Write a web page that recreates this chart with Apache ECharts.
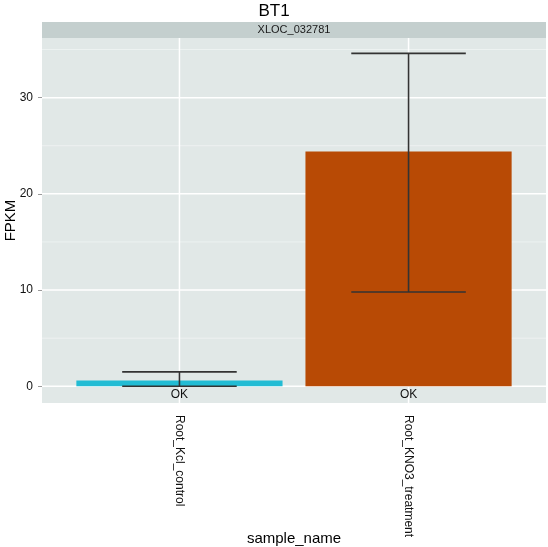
<!DOCTYPE html>
<html><head><meta charset="utf-8">
<script src="https://cdn.jsdelivr.net/npm/echarts@6/dist/echarts.min.js"></script>
<style>html,body{margin:0;padding:0;background:#fff}#c{width:548px;height:547px}</style>
</head><body><div id="c"></div>
<script>
const categories = ['Root_Kcl_control', 'Root_KNO3_treatment'];
const fpkm = [0.6, 24.4];
const confLo = [0.0, 9.8];
const confHi = [1.5, 34.6];
const statusLabels = ['OK', 'OK'];
const barColors = ['#22BCD4', '#B84A05'];
const yTicks = [0, 10, 20, 30];
const yMinor = [5, 15, 25, 35];
const titleText = 'BT1';
const stripText = 'XLOC_032781';

const FONT = 'Liberation Sans';
const GL = 42, GR = 2, GT = 38, GB = 144, W = 548;
const XMIN = 0.4, XMAX = 2.6, YMIN = -1.74, YMAX = 36.2;
const xPos = categories.map((c, i) => i + 1);

const chart = echarts.init(document.getElementById('c'), null, {renderer: 'canvas'});

const barData = xPos.map((x, i) => [x, fpkm[i], i]);
const errData = xPos.map((x, i) => [x, confLo[i], confHi[i]]);
const okData = xPos.map((x, i) => [x, 0, i]);

chart.setOption({
  animation: false,
  backgroundColor: '#fff',
  grid: {left: GL, right: GR, top: GT, bottom: GB, show: true, backgroundColor: '#E1E8E7', borderWidth: 0, containLabel: false, outerBoundsMode: 'none'},
  graphic: [
    {type: 'text', left: 'center', top: 3, style: {text: titleText, fontFamily: FONT, fontSize: 17, fill: '#000', x: 0, y: 0}},
    {type: 'rect', shape: {x: GL, y: 22, width: W - GL - GR, height: 16}, style: {fill: '#C4CFCE'}, z: 1},
    {type: 'text', style: {text: stripText, x: GL + (W - GL - GR) / 2, y: 30, textAlign: 'center', textVerticalAlign: 'middle', fontFamily: FONT, fontSize: 11, fill: '#1a1a1a'}, z: 2}
  ],
  xAxis: {
    type: 'value', min: XMIN, max: XMAX,
    name: 'sample_name', nameLocation: 'middle', nameGap: 128, nameMoveOverlap: false,
    nameTextStyle: {fontFamily: FONT, fontSize: 15, color: '#000'},
    axisLine: {show: false},
    axisTick: {show: true, customValues: xPos, length: 4, lineStyle: {color: '#9a9a9a', width: 1}},
    axisLabel: {customValues: xPos, formatter: v => categories[Math.round(v) - 1] || '', rotate: -90, margin: 12, fontFamily: FONT, fontSize: 12, color: '#111'},
    splitLine: {show: false}
  },
  yAxis: {
    type: 'value', min: YMIN, max: YMAX,
    name: 'FPKM', nameLocation: 'middle', nameGap: 24, nameRotate: 90, nameMoveOverlap: false,
    nameTextStyle: {fontFamily: FONT, fontSize: 15, color: '#000'},
    axisLine: {show: false},
    axisTick: {show: true, customValues: yTicks, length: 4, lineStyle: {color: '#9a9a9a', width: 1}},
    axisLabel: {customValues: yTicks, margin: 9, fontFamily: FONT, fontSize: 12, color: '#111'},
    splitLine: {show: false}
  },
  series: [
    {
      type: 'custom', name: 'minorGrid', silent: true, z: 1,
      data: yMinor.map(v => [v]),
      renderItem: (params, api) => {
        const v = api.value(0);
        const a = api.coord([XMIN, v]), b = api.coord([XMAX, v]);
        return {type: 'line', shape: {x1: a[0], y1: a[1], x2: b[0], y2: b[1]}, style: {stroke: '#F3F6F6', lineWidth: 0.7}};
      }
    },
    {
      type: 'custom', name: 'majorGrid', silent: true, z: 1,
      data: yTicks.map(v => [v]),
      renderItem: (params, api) => {
        const v = api.value(0);
        const a = api.coord([XMIN, v]), b = api.coord([XMAX, v]);
        return {type: 'line', shape: {x1: a[0], y1: a[1], x2: b[0], y2: b[1]}, style: {stroke: '#FFFFFF', lineWidth: 1.5}};
      }
    },
    {
      type: 'custom', name: 'xGrid', silent: true, z: 1,
      data: xPos.map(v => [v]),
      renderItem: (params, api) => {
        const v = api.value(0);
        const a = api.coord([v, YMIN]), b = api.coord([v, YMAX]);
        return {type: 'line', shape: {x1: a[0], y1: a[1], x2: b[0], y2: b[1]}, style: {stroke: '#FFFFFF', lineWidth: 1.5}};
      }
    },
    {
      type: 'custom', name: 'bars', z: 3,
      data: barData,
      renderItem: (params, api) => {
        const x = api.value(0), y = api.value(1), i = api.value(2);
        const p0 = api.coord([x - 0.45, y]), p1 = api.coord([x + 0.45, 0]);
        return {type: 'rect', shape: {x: p0[0], y: p0[1], width: p1[0] - p0[0], height: p1[1] - p0[1]}, style: {fill: barColors[i]}};
      }
    },
    {
      type: 'custom', name: 'errors', z: 4,
      data: errData,
      renderItem: (params, api) => {
        const x = api.value(0), lo = api.value(1), hi = api.value(2);
        const t = api.coord([x, hi]), b = api.coord([x, lo]);
        const tl = api.coord([x - 0.25, hi]), tr = api.coord([x + 0.25, hi]);
        const bl = api.coord([x - 0.25, lo]), br = api.coord([x + 0.25, lo]);
        const st = {stroke: '#333333', lineWidth: 1.6};
        return {type: 'group', children: [
          {type: 'line', shape: {x1: t[0], y1: t[1], x2: b[0], y2: b[1]}, style: st},
          {type: 'line', shape: {x1: tl[0], y1: tl[1], x2: tr[0], y2: tr[1]}, style: st},
          {type: 'line', shape: {x1: bl[0], y1: bl[1], x2: br[0], y2: br[1]}, style: st}
        ]};
      }
    },
    {
      type: 'custom', name: 'status', z: 5,
      data: okData,
      renderItem: (params, api) => {
        const x = api.value(0), y = api.value(1), i = api.value(2);
        const p = api.coord([x, y]);
        return {type: 'text', style: {text: statusLabels[i], x: p[0], y: p[1] + 8, textAlign: 'center', textVerticalAlign: 'middle', fontFamily: FONT, fontSize: 12, fill: '#111'}};
      }
    }
  ]
});
</script></body></html>
